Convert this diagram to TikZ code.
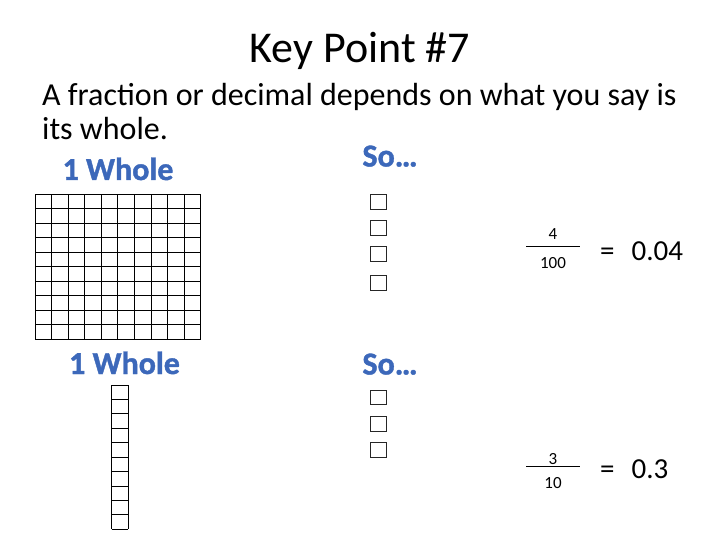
\documentclass[tikz,border=0pt]{standalone}
\usepackage{fontspec}
\setmainfont{Carlito}
\definecolor{wordblue}{RGB}{60,104,186}
\begin{document}
\begin{tikzpicture}[x=1pt,y=-1pt,
  titletext/.style={font=\fontsize{44}{53}\selectfont, inner sep=0pt},
  bodytext/.style={font=\fontsize{32}{38}\selectfont, inner sep=0pt},
  wordart/.style={font=\fontsize{32}{38}\selectfont\bfseries\addfontfeature{FakeBold=1.2}, text=wordblue, inner sep=0pt},
  smalltext/.style={font=\fontsize{17}{20}\selectfont, inner sep=0pt},
  decimaltext/.style={font=\fontsize{29}{35}\selectfont, inner sep=0pt},
  cell/.style={draw=black, line width=0.8pt},
  tickbox/.style={draw=black!85, line width=0.9pt},
  fracbar/.style={draw=black, line width=0.7pt}]
\useasboundingbox (0,0) rectangle (720,540);
\fill[white] (0,0) rectangle (720,540);
% texts
\node[titletext, anchor=base] (title) at (360,63) {Key Point \#7};
\node[bodytext, anchor=base west] (line1) at (42,105.7) {A fraction or decimal depends on what you say is};
\node[bodytext, anchor=base west] (line2) at (42,140) {its whole.};
\node[wordart, anchor=base] (whole1) at (118,180) {1 Whole};
\node[wordart, anchor=base] (whole2) at (124.5,374) {1 Whole};
\node[wordart, anchor=base] (so1) at (390,166.5) {So…};
\node[wordart, anchor=base] (so2) at (390,374.5) {So…};
% 10 x 10 grid
\foreach \i in {0,...,10} {
  \draw[cell] ({35+16.57*\i},194.3) -- ({35+16.57*\i},339);
  \draw[cell] (35,{194.3+14.47*\i}) -- (200.7,{194.3+14.47*\i});
}
% 1 x 10 strip
\draw[cell] (111.7,385) -- (111.7,529.3);
\draw[cell] (128.3,385) -- (128.3,529.3);
\foreach \i in {0,...,10} {
  \draw[cell] (111.7,{385+14.43*\i}) -- (128.3,{385+14.43*\i});
}
% small boxes
\foreach \t in {194.3,220.7,246.7,275.5} {
  \draw[tickbox] (370,\t) rectangle ++(16.5,15);
}
\foreach \t in {390,416.7,442.7} {
  \draw[tickbox] (370,\t) rectangle ++(16.5,14.5);
}
% fractions
\node[smalltext, anchor=base] (num1) at (553,240) {4};
\node[smalltext, anchor=base] (den1) at (553,268.3) {100};
\draw[fracbar] (526,246.7) -- (580,246.7);
\node[decimaltext, anchor=base west] (dec1) at (600,260) {=\hspace{17pt}0.04};
\node[smalltext, anchor=base] (num2) at (553,464) {3};
\node[smalltext, anchor=base] (den2) at (553,488.3) {10};
\draw[fracbar] (526,466.7) -- (580,466.7);
\node[decimaltext, anchor=base west] (dec2) at (600,478.3) {=\hspace{17pt}0.3};
\end{tikzpicture}
\end{document}
